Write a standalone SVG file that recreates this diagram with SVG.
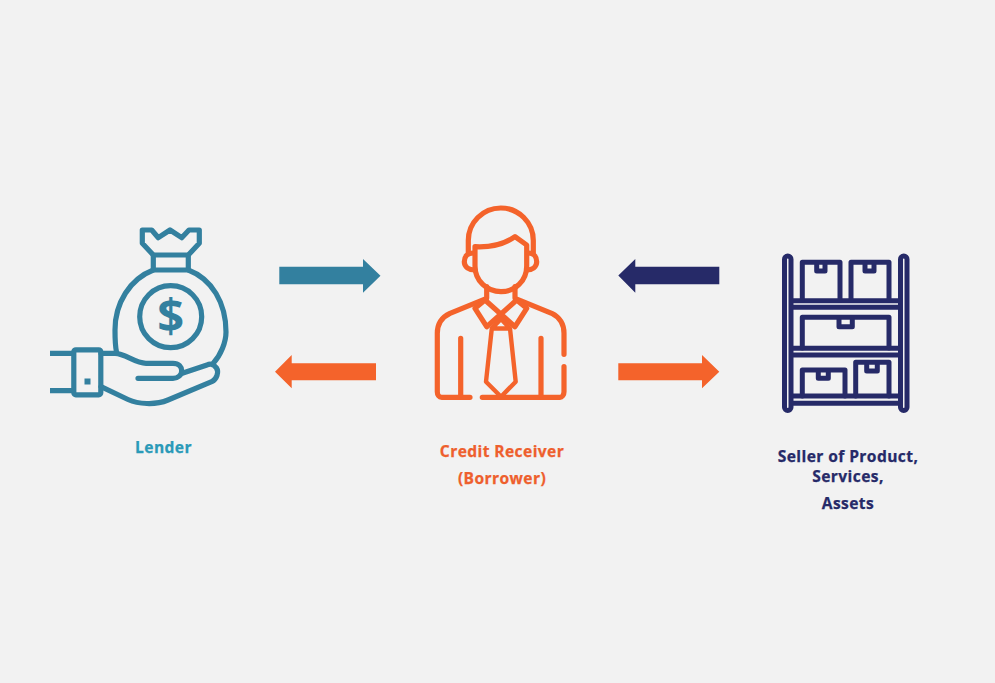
<svg xmlns="http://www.w3.org/2000/svg" width="995" height="683" viewBox="0 0 995 683">
<style>
.ic{fill:none;stroke-width:5.2;stroke-linecap:round;stroke-linejoin:round}
.teal{stroke:#33809f}.or{stroke:#f4632b}.nv{stroke:#262a68;stroke-width:5}
.l{font-family:"Open Sans",sans-serif;font-weight:700;font-size:15.6px;text-anchor:middle;letter-spacing:.4px;stroke-width:.25px}
</style>
<rect width="995" height="683" fill="#f2f2f2"/>
<g id="connectors">
<path fill="#33809f" d="M279.3 266.7H363V259L380.5 275.7L363 292.7V284.3H279.3Z"/>
<path fill="#f4632b" d="M376 363.3H291.7V355L275 371.7L291.7 388.3V380.3H376Z"/>
<path fill="#262a68" d="M719.3 266.7H635.3V259L618.3 275.5L635.3 292.7V284.3H719.3Z"/>
<path fill="#f4632b" d="M618.3 363.3H702V355L719.3 371.7L702 388.3V380.3H618.3Z"/>
</g>
<g id="lender">
<g class="ic teal">
<path d="M142.3 230H151.7L158.3 237.7L170 230L181.7 237.7L189 230H199.3V243.3L188.3 255H153.3L142.3 243.3Z"/>
<path d="M153.3 255V270H188.3V255"/>
<path d="M153.3 270C130 279 115 303 115 330C115 338 115 345 116.5 352"/>
<path d="M188.3 270C212 279 226 303 226 332C226 342 221 355 213 363.5"/>
<circle cx="170.7" cy="316.7" r="31"/>
<path stroke-linecap="butt" d="M50 353.3H73.3M50 390.7H73.3"/>
<rect x="73.8" y="349.8" width="27" height="45" rx="2"/>
<path d="M101 353.3H115C125 353.3 135 363.3 146 363.3H173C179 363.3 181.7 367 181.7 370.7C181.7 375 178 378.3 173 378.3H138"/>
<path d="M101 386.7L128 399.5C138 404 155 405.5 168 400L211.7 381.7C217 379 219 372 216.5 368C214 364 210 363.5 207 365L183 373"/>
</g>
<rect x="84.5" y="378.5" width="6" height="6" fill="#33809f"/>
<text x="170.7" y="333" text-anchor="middle" font-family="'Open Sans',sans-serif" font-weight="700" font-size="47" fill="#33809f">$</text>
<text class="l" x="163.5" y="453" fill="#2a9ab8" stroke="#2a9ab8">Lender</text>
</g>
<g id="borrower">
<g class="ic or">
<path d="M468.3 253V240.5A32.5 32.5 0 0 1 533.3 240.5V253"/>
<path d="M475 246.7C490 247.5 503 245 515 236.7L526.7 245V266C526.7 281 515 291.7 501 291.7C487 291.7 475 281 475 266Z"/>
<path d="M473.3 253C467 253 464.3 257 464.3 261.7C464.3 267 469 270 475 270"/>
<path d="M528.3 253C534 253 536.7 257 536.7 261.7C536.7 267 532 270 526.7 270"/>
<path d="M486.7 286.7V298.3L450 313.3C442 317 437.3 324 437.3 333.3V391.7C437.3 395 439 397.3 441.7 397.3H470"/>
<path d="M515 286.7V298.3L551.7 313.3C559 317 564 324 564 333.3V354.3"/>
<path d="M564 366.7V391.7C564 395 562 397.3 560 397.3H482.3"/>
<path d="M485 300L475 308.3L486.7 326.7L516.7 300L526.7 308.3L515 326.7L485 300"/>
<path stroke-width="4.4" d="M491.8 328.5L501 319L510 328.5ZM491.8 328.5L486 381.7L501 396.7L515.7 381.7L510 328.5"/>
<path d="M460.7 338.3V395M541 338.3V395"/>
</g>
<text class="l" x="502" y="457" fill="#ee5f2d" stroke="#ee5f2d">Credit Receiver</text>
<text class="l" x="502" y="484" fill="#ee5f2d" stroke="#ee5f2d">(Borrower)</text>
</g>
<g id="seller">
<g class="ic nv">
<rect x="784.5" y="256" width="6.5" height="154.5" rx="3.2"/>
<rect x="900.5" y="256" width="6.5" height="154.5" rx="3.2"/>
<path stroke-linecap="butt" d="M791 300.7H900.5M791 307.3H900.5M791 348.3H900.5M791 355H900.5M791 396H900.5M791 403.3H900.5"/>
<path d="M802.3 300V262.3H840V300M816.7 262.3V271H825V262.3"/>
<path d="M851 300V262.3H889V300M865 262.3V271H874V262.3"/>
<path d="M802.3 348V317.3H889V348M839 317.3V326.7H852.3V317.3"/>
<path d="M802.3 396V370H845V396M818.3 370V378.3H828.3V370"/>
<path d="M855.7 396V362.3H889V396M866.7 362.3V371H877.3V362.3"/>
</g>
<text class="l" x="848" y="462" fill="#262a68" stroke="#262a68">Seller of Product,</text>
<text class="l" x="848" y="482" fill="#262a68" stroke="#262a68">Services,</text>
<text class="l" x="848" y="509" fill="#262a68" stroke="#262a68">Assets</text>
</g>
</svg>
